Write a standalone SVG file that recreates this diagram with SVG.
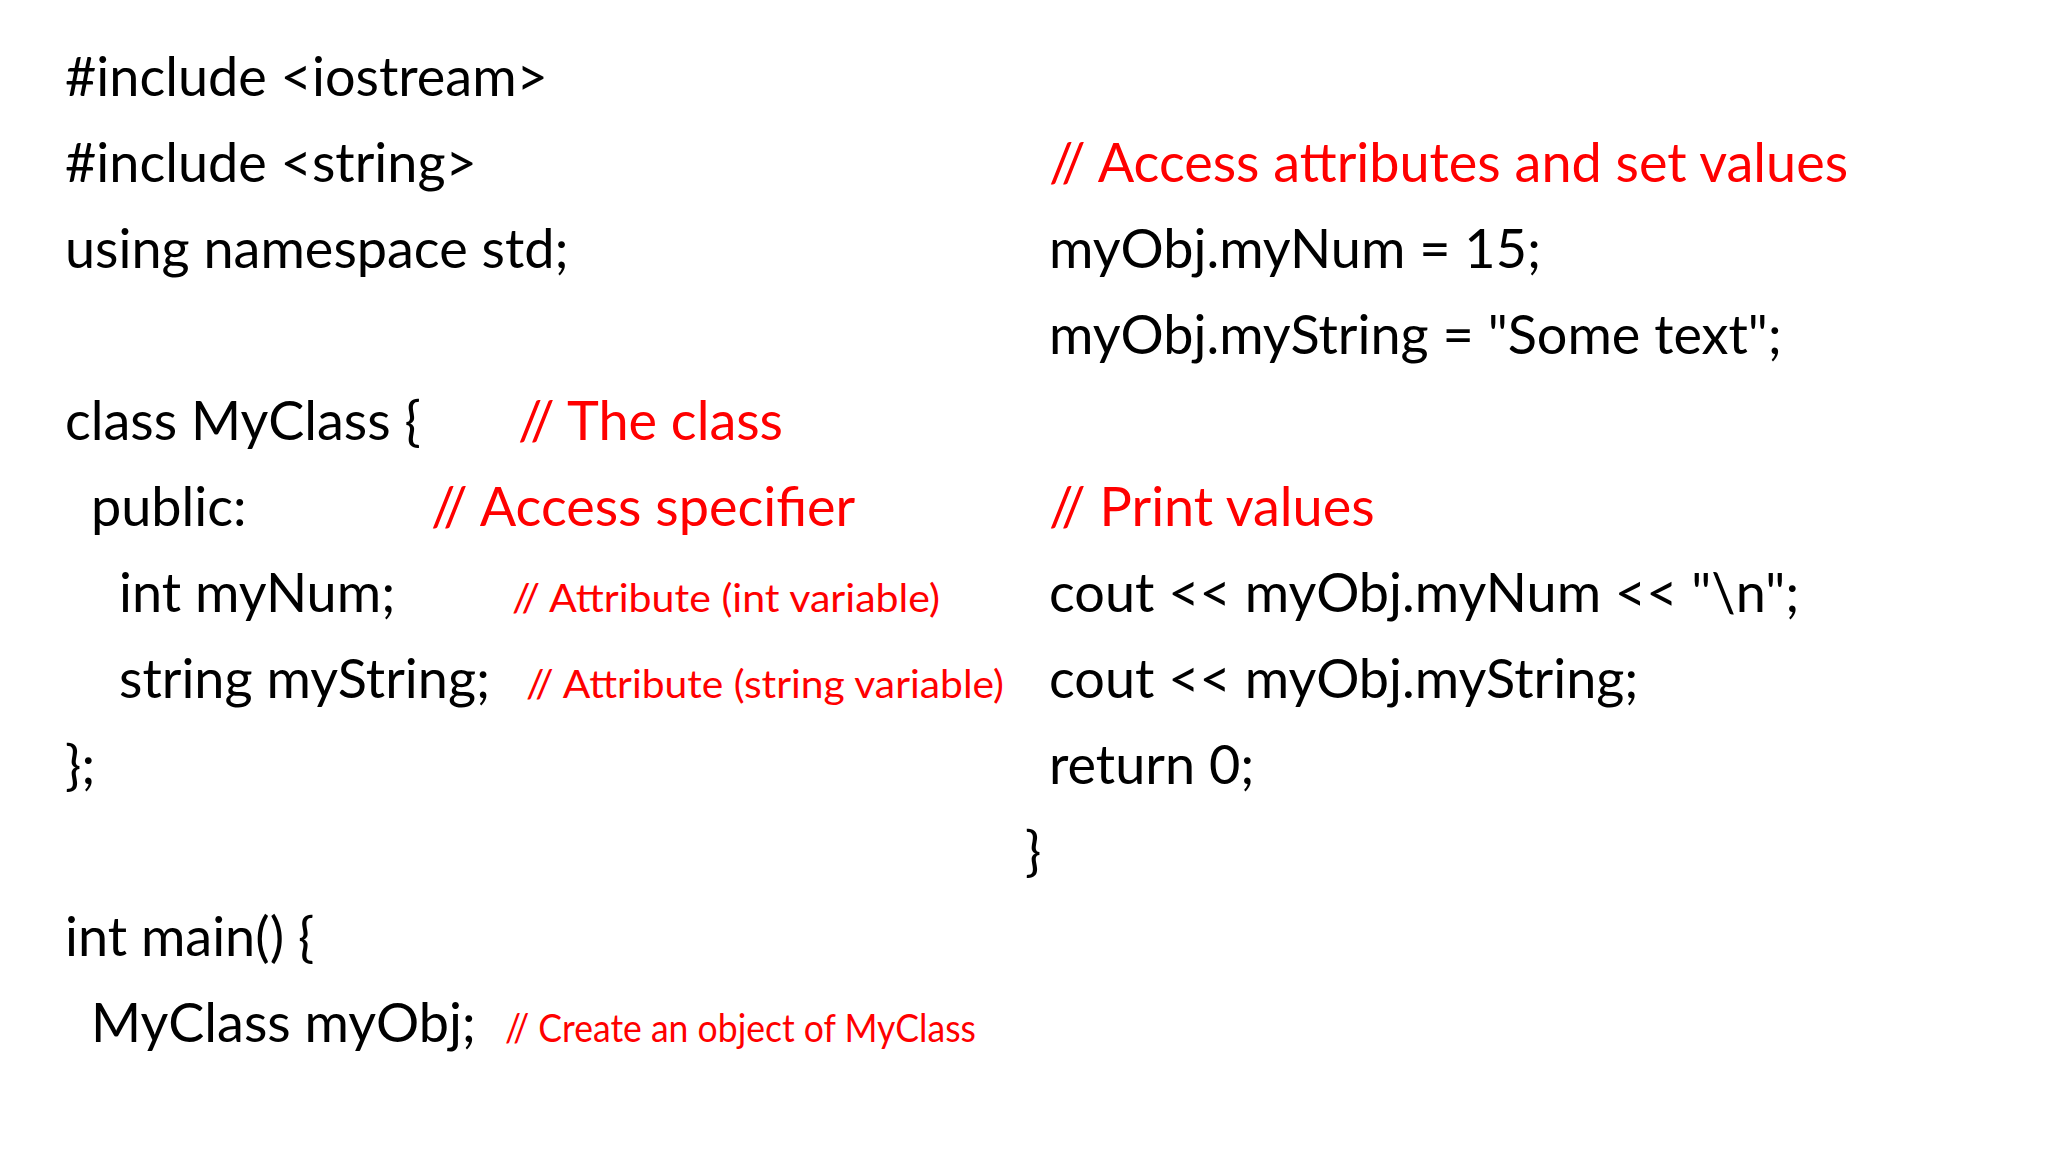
<svg xmlns="http://www.w3.org/2000/svg" width="2048" height="1152" viewBox="0 0 2048 1152">
<style>
text{font-family:Lato,"Open Sans",sans-serif;font-size:54px;fill:#000}
.c{fill:#ff0000}
.s{font-size:38px}
</style>
<rect width="2048" height="1152" fill="#fff"/>
<g id="left">
<text x="65" y="96">#include &lt;iostream&gt;</text>
<text x="65" y="182">#include &lt;string&gt;</text>
<text x="65" y="268">using namespace std;</text>
<text x="65" y="440">class MyClass {</text>
<text x="518" y="440" class="c">// The class</text>
<text x="91" y="526">public:</text>
<text x="431" y="526" class="c">// Access specifier</text>
<text x="119" y="612">int myNum;</text>
<text x="512" y="612" class="c s" textLength="428" lengthAdjust="spacingAndGlyphs">// Attribute (int variable)</text>
<text x="119" y="698">string myString;</text>
<text x="526" y="698" class="c s" textLength="478" lengthAdjust="spacingAndGlyphs">// Attribute (string variable)</text>
<text x="65" y="784">};</text>
<text x="65" y="956">int main() {</text>
<text x="91" y="1042">MyClass myObj;</text>
<text x="505" y="1042" class="c s" textLength="471" lengthAdjust="spacingAndGlyphs">// Create an object of MyClass</text>
</g>
<g id="right">
<text x="1049" y="182" class="c">// Access attributes and set values</text>
<text x="1049" y="268">myObj.myNum = 15;</text>
<text x="1049" y="354">myObj.myString = "Some text";</text>
<text x="1049" y="526" class="c">// Print values</text>
<text x="1049" y="612">cout &lt;&lt; myObj.myNum &lt;&lt; "\n";</text>
<text x="1049" y="698">cout &lt;&lt; myObj.myString;</text>
<text x="1049" y="784">return 0;</text>
<text x="1025" y="870">}</text>
</g>
</svg>
